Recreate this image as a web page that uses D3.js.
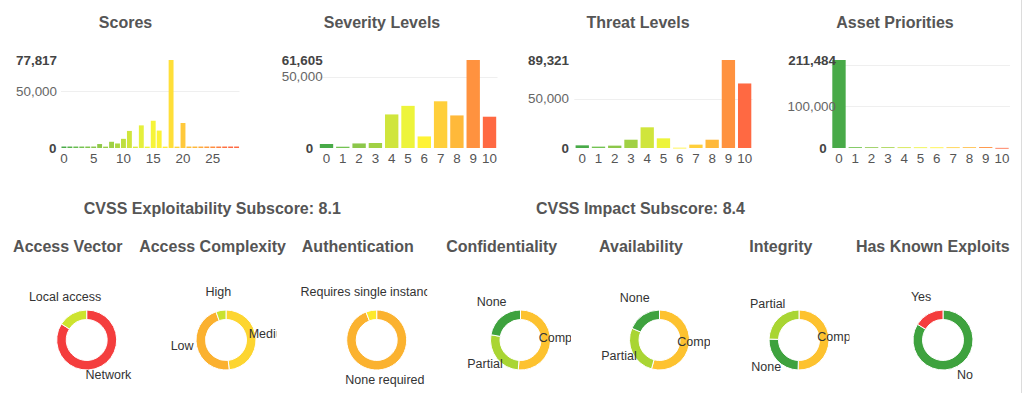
<!DOCTYPE html>
<html><head><meta charset="utf-8">
<script src="https://cdn.jsdelivr.net/npm/d3@7"></script>
<style>
body{margin:0;background:#fff;overflow:hidden;}
svg{display:block;font-family:"Liberation Sans",Arial,Helvetica,sans-serif;}
</style></head><body>
<svg id="c" width="1024" height="393"></svg>
<script>
// ---------------- DATA ----------------
const scoreLevels = [0,1,2,3,4,5,6,7,8,9,10,11,12,13,14,15,16,17,18,19,20,21,22,23,24,25,26,27,28,29];
const scoreCounts = [1300,1300,1300,1300,1300,1300,3500,1200,5500,4000,8100,15100,1200,20000,1200,24100,15400,1200,77817,1200,22100,1300,1300,1300,1300,1300,1300,1300,1300,1300];
const scoreTickLabels = [0,5,10,15,20,25];
const scoreYTicks = [0,50000];

const levelCategories = [0,1,2,3,4,5,6,7,8,9,10];
const severityCounts = [2800,900,3200,3500,23500,29500,8100,32700,22800,61605,21900];
const severityYTicks = [0,50000];
const threatCounts = [2700,1400,2400,8400,21000,9800,300,3400,8400,89321,65500];
const threatYTicks = [0,50000];
const assetCounts = [211484,2100,1900,1900,1800,1700,1600,1800,1900,2200,300];
const assetYTicks = [0,100000,200000];

const barTitles = ["Scores","Severity Levels","Threat Levels","Asset Priorities"];

const exploitabilitySubscore = 8.1;
const impactSubscore = 8.4;

const donutTitles = ["Access Vector","Access Complexity","Authentication","Confidentiality","Availability","Integrity","Has Known Exploits"];
const accessVectorLabels = ["Network","Local access"];
const accessVectorValues = [84,16];
const accessComplexityLabels = ["Medium","Low","High"];
const accessComplexityValues = [48.3,46.3,5.4];
const authenticationLabels = ["None required","Requires single instance"];
const authenticationValues = [94.2,5.8];
const confidentialityLabels = ["Complete","Partial","None"];
const confidentialityValues = [51.2,26.6,22.2];
const availabilityLabels = ["Complete","Partial","None"];
const availabilityValues = [54.3,27.1,18.6];
const integrityLabels = ["Complete","None","Partial"];
const integrityValues = [50.5,25,24.5];
const exploitsLabels = ["No","Yes"];
const exploitsValues = [83.8,16.2];

// ---------------- STYLE / LAYOUT ----------------
const palette = ["#3ea53e","#6cc04a","#86c440","#9ccf3a","#cde432","#ecf330","#fff22a","#ffcc30","#ffb52f","#ff8c35","#ff6138"];
const sliceColors = {
  "Network":"#f43d3d","Local access":"#cde32e",
  "Medium":"#fdd530","Low":"#fbb12f","High":"#c9e22e",
  "None required":"#fbb22f","Requires single instance":"#fde92c",
  "Complete":"#fdc22f","Partial":"#a9d533","None":"#3ea23e",
  "No":"#3ea23e","Yes":"#f43d3d"
};
const barLayout = [
  {x0:61, x1:239.5, labelR:57, zeroR:56.5, titleX:125.5},
  {x0:318.5, x1:497.5, labelR:322.7, zeroR:313.3, titleX:382},
  {x0:574.3, x1:752.6, labelR:569, zeroR:569, titleX:638},
  {x0:831, x1:1010, labelR:836, zeroR:826.7, titleX:895}
];
const baseY = 148, topY = 60;
const axisFont = 13.4;
const donutTitleX = [67.8,212.5,357.8,501.7,641,780.8,932.8];
const donutCX = [86.7,226,376.7,520.5,659.5,799,943];
const donutCY = 340;

const svg = d3.select("#c");
const fmt = d3.format(",");

// right border
svg.append("line").attr("x1",1021.5).attr("x2",1021.5).attr("y1",0).attr("y2",393)
  .attr("stroke","#dcdcdc").attr("stroke-width",1);

// ---------------- BAR CHARTS ----------------
const barCharts = [
  {cats:scoreLevels, vals:scoreCounts, yTicks:scoreYTicks, xLabels:scoreTickLabels, colorT:i=>Math.min(10,i/2.75)},
  {cats:levelCategories, vals:severityCounts, yTicks:severityYTicks, xLabels:levelCategories, colorT:i=>i},
  {cats:levelCategories, vals:threatCounts, yTicks:threatYTicks, xLabels:levelCategories, colorT:i=>i},
  {cats:levelCategories, vals:assetCounts, yTicks:assetYTicks, xLabels:levelCategories, colorT:i=>i}
];
const palScale = d3.scaleLinear().domain(d3.range(palette.length)).range(palette).interpolate(d3.interpolateRgb);

barCharts.forEach((ch, k) => {
  const L = barLayout[k];
  const g = svg.append("g");
  const max = d3.max(ch.vals);
  const x = d3.scaleBand().domain(ch.cats).range([L.x0, L.x1]).paddingInner(0.18).paddingOuter(0.08);
  const y = d3.scaleLinear().domain([0, max]).range([baseY, topY]);

  g.append("text").attr("x", L.titleX).attr("y", 27.5).attr("text-anchor","middle")
    .attr("font-size",16).attr("font-weight","bold").attr("fill","#555").text(barTitles[k]);

  // gridlines
  g.selectAll("line.grid").data(ch.yTicks.filter(t=>t>0)).join("line")
    .attr("x1", L.x0).attr("x2", L.x1).attr("y1", d=>Math.round(y(d))+0.5).attr("y2", d=>Math.round(y(d))+0.5)
    .attr("stroke","#efefef").attr("stroke-width",1);

  // bars
  g.selectAll("rect").data(ch.vals).join("rect")
    .attr("x",(d,i)=>x(ch.cats[i])).attr("width",x.bandwidth())
    .attr("y",d=>y(d)).attr("height",d=>Math.max(0.8, baseY - y(d)))
    .attr("fill",(d,i)=>palScale(ch.colorT(i))).attr("opacity",0.95);

  // y labels
  ch.yTicks.forEach(t => {
    if (t === 0) {
      g.append("text").attr("x",L.zeroR).attr("y",y(0)).attr("dy","0.35em").attr("text-anchor","end")
        .attr("font-size",axisFont).attr("font-weight","bold").attr("fill","#444").text("0");
    } else if (Math.abs(y(t) - y(max)) > 13) {
      g.append("text").attr("x",L.labelR).attr("y",y(t)).attr("dy","0.35em").attr("text-anchor","end")
        .attr("font-size",axisFont).attr("fill","#666").text(fmt(t));
    }
  });
  g.append("text").attr("x",L.labelR).attr("y",y(max)).attr("dy","0.35em").attr("text-anchor","end")
    .attr("font-size",axisFont).attr("font-weight","bold").attr("fill","#444").text(fmt(max));

  // x labels
  g.selectAll("text.xl").data(ch.xLabels).join("text")
    .attr("x",d=>x(d)+x.bandwidth()/2).attr("y",163).attr("text-anchor","middle")
    .attr("font-size",axisFont).attr("fill","#555").text(d=>d);
});

// ---------------- SUBSCORE HEADERS ----------------
svg.append("text").attr("x",212.3).attr("y",213.5).attr("text-anchor","middle")
  .attr("font-size",16).attr("font-weight","bold").attr("fill","#555")
  .text("CVSS Exploitability Subscore: " + exploitabilitySubscore);
svg.append("text").attr("x",640.4).attr("y",213.5).attr("text-anchor","middle")
  .attr("font-size",16).attr("font-weight","bold").attr("fill","#555")
  .text("CVSS Impact Subscore: " + impactSubscore);

// ---------------- DONUTS ----------------
const donuts = [
  [accessVectorLabels, accessVectorValues],
  [accessComplexityLabels, accessComplexityValues],
  [authenticationLabels, authenticationValues],
  [confidentialityLabels, confidentialityValues],
  [availabilityLabels, availabilityValues],
  [integrityLabels, integrityValues],
  [exploitsLabels, exploitsValues]
];
const pie = d3.pie().value(d=>d.v);
const arc = d3.arc().innerRadius(20.5).outerRadius(30);
const defs = svg.append("defs");

donuts.forEach(([labels, values], k) => {
  const cx = donutCX[k];
  svg.append("text").attr("x",donutTitleX[k]).attr("y",251.5).attr("text-anchor","middle")
    .attr("font-size",16).attr("font-weight","bold").attr("fill","#555").text(donutTitles[k]);

  const cid = "clip" + k;
  defs.append("clipPath").attr("id",cid).append("rect")
    .attr("x",cx-100).attr("y",260).attr("width",150.5).attr("height",133);

  const data = labels.map((l,i)=>({l, v:values[i]}));
  const arcs = pie(data);
  const g = svg.append("g").attr("clip-path",`url(#${cid})`);
  const gd = g.append("g").attr("transform",`translate(${cx},${donutCY})`);
  gd.selectAll("path").data(arcs).join("path")
    .attr("d",arc).attr("fill",d=>sliceColors[d.data.l]).attr("stroke","#fff").attr("stroke-width",1);
  gd.selectAll("text").data(arcs).join("text")
    .attr("x",d=>45*Math.sin((d.startAngle+d.endAngle)/2))
    .attr("y",d=>-45*Math.cos((d.startAngle+d.endAngle)/2))
    .attr("text-anchor","middle").attr("font-size",12.5).attr("fill","#333")
    .text(d=>d.data.l);
});
</script>
</body></html>
